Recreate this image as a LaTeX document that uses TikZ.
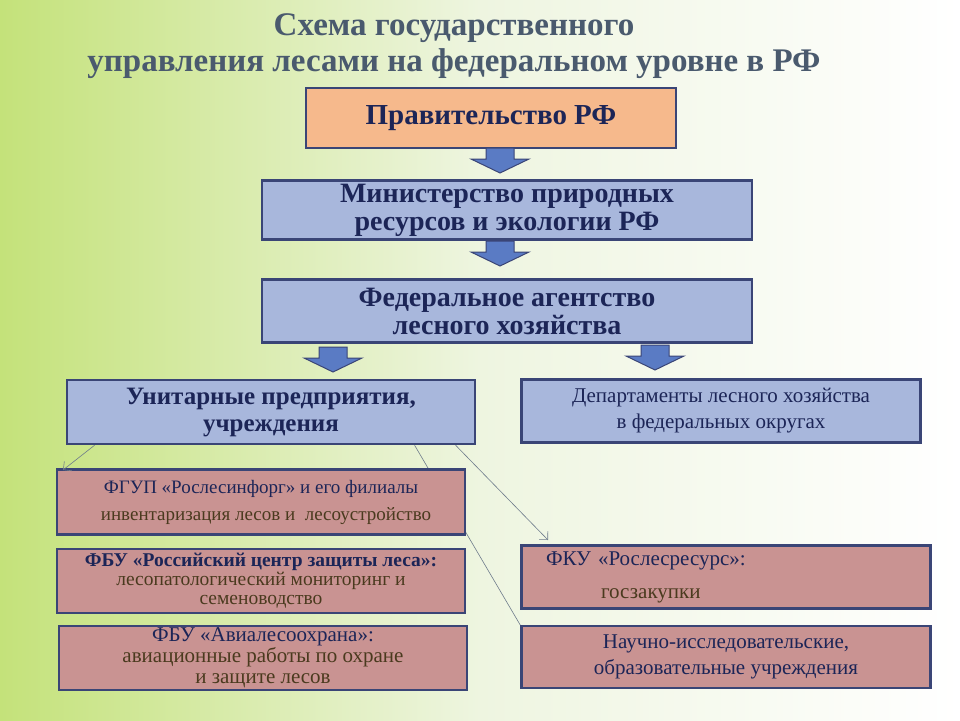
\documentclass[tikz,border=0pt]{standalone}
\usepackage{fontspec}
\setmainfont{Liberation Serif}
\usetikzlibrary{calc,arrows.meta}
\definecolor{ttl}{HTML}{4A5A6E}
\definecolor{navy}{HTML}{1C2557}
\definecolor{brn}{HTML}{4A3A1E}
\definecolor{bord}{HTML}{3A4576}
\definecolor{blu}{HTML}{A8B7DC}
\definecolor{pnk}{HTML}{C99392}
\definecolor{org}{HTML}{F6B98C}
\definecolor{arr}{HTML}{5A7BC4}
\definecolor{bgg}{HTML}{C4E27A}
\definecolor{bgm}{HTML}{EEF5E0}
\tikzset{
  box/.style={draw=bord,line width=2.2pt,inner sep=2pt,align=center,text=navy},
  bluebox/.style={box,fill=blu},
  pinkbox/.style={box,fill=pnk},
  barrowst/.style={draw=bord,fill=arr,line width=1pt,line join=miter},
  thin/.style={draw=ttl!80,line width=0.6pt,-{Straight Barb[length=6pt]}}
}
\newcommand{\blockarrow}[2]{\draw[barrowst] (#1-14,#2) -- (#1+14,#2) -- (#1+14,#2+11) -- (#1+29,#2+11) -- (#1,#2+25) -- (#1-29,#2+11) -- (#1-14,#2+11) -- cycle;}
\begin{document}
\begin{tikzpicture}[x=1pt,y=-1pt]
\shade[left color=bgg,right color=white,middle color=bgm] (0,0) rectangle (960,720);
\useasboundingbox (0,0) rectangle (960,720);
\node[text=ttl,font=\bfseries\fontsize{33}{36}\selectfont,align=center] (title) at (454,46) {Схема государственного\\управления лесами на федеральном уровне в РФ};
\node[box,fill=org,minimum width=370pt,minimum height=60pt,font=\bfseries\fontsize{29}{31}\selectfont] (gov) at (491,118) {Правительство РФ};
\node[bluebox,minimum width=490pt,minimum height=59pt,font=\bfseries\fontsize{28}{28}\selectfont] (min) at (507,210) {Министерство природных\\ресурсов и экологии РФ};
\node[bluebox,minimum width=490pt,minimum height=63pt,font=\bfseries\fontsize{28}{28}\selectfont] (fa) at (507,311) {Федеральное агентство\\лесного хозяйства};
\node[bluebox,minimum width=408pt,minimum height=64pt,font=\bfseries\fontsize{25}{27}\selectfont,anchor=north] (un) at (271,379) {Унитарные предприятия,\\учреждения};
\node[bluebox,minimum width=399pt,minimum height=63pt,font=\fontsize{21}{26}\selectfont] (dep) at (721,411) {Департаменты лесного хозяйства\\в федеральных округах};
\draw[draw=ttl!80,line width=0.6pt] ($(un.south west)!0.85!(un.south east)$) -- (522,628);
\node[pinkbox,minimum width=408pt,minimum height=65pt,font=\fontsize{19}{27}\selectfont] (fgup) at (261,502) {ФГУП «Рослесинфорг» и его филиалы\\\hspace*{10pt}\textcolor{brn}{инвентаризация лесов и \ лесоустройство}};
\node[pinkbox,minimum width=408pt,minimum height=64pt,font=\fontsize{19.5}{19}\selectfont,anchor=north] (rcz) at (261,548) {\textbf{ФБУ «Российский центр защиты леса»:}\\\textcolor{brn}{лесопатологический мониторинг и}\\\textcolor{brn}{семеноводство}};
\node[pinkbox,minimum width=408pt,minimum height=63pt,font=\fontsize{21}{21}\selectfont,anchor=north] (avia) at (263,625) {ФБУ «Авиалесоохрана»:\\\textcolor{brn}{авиационные работы по охране}\\\textcolor{brn}{и защите лесов}};
\node[pinkbox,minimum width=409pt,minimum height=63pt,font=\fontsize{21}{33}\selectfont,align=left,text width=380pt] (fku) at (726,577) {\hspace*{10pt}ФКУ «Рослесресурс»:\\\hspace*{65pt}\textcolor{brn}{госзакупки}};
\node[pinkbox,minimum width=409pt,minimum height=62pt,font=\fontsize{21}{26}\selectfont] (nii) at (726,657) {Научно-исследовательские,\\образовательные учреждения};
\blockarrow{500}{148}
\blockarrow{500}{241}
\blockarrow{333}{347}
\blockarrow{655}{345}
\coordinate (c1) at ($(un.south west)!0.07!(un.south east)$);
\coordinate (c2) at ($(un.south west)!0.95!(un.south east)$);
\draw[thin] (c1) -- (63,470);
\draw[thin] (c2) -- (548,540);
\end{tikzpicture}
\end{document}
